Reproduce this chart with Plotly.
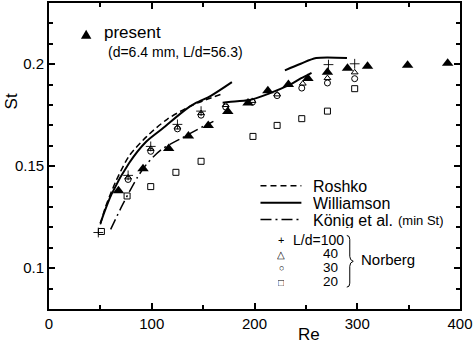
import plotly.graph_objects as go

# ---------------- data ----------------
present_re = [67.6, 91.5, 116.5, 135.7, 155, 174, 193.7, 213, 233, 252, 271, 290.5, 310, 349, 388]
present_st = [0.138, 0.1487, 0.1587, 0.1648, 0.170, 0.1768, 0.181, 0.187, 0.190, 0.193, 0.196, 0.198, 0.199, 0.1995, 0.2005]

roshko_re = [50, 55, 65, 78, 95, 115, 140, 169]
roshko_st = [0.1215, 0.1300, 0.1425, 0.1550, 0.1645, 0.1730, 0.1800, 0.1855]

williamson_re_1 = [50, 61, 78, 94.5, 110.5, 133.5, 143, 157.5, 178]
williamson_st_1 = [0.1220, 0.1364, 0.1516, 0.1620, 0.1685, 0.1780, 0.1810, 0.1845, 0.1912]
williamson_re_2 = [169, 175, 195, 214, 233.5, 245, 255.5]
williamson_st_2 = [0.1811, 0.1815, 0.1824, 0.1856, 0.1897, 0.1930, 0.1958]
williamson_re_3 = [229.6, 245, 260, 290]
williamson_st_3 = [0.1970, 0.2002, 0.2030, 0.2030]

konig_re = [60, 71.5, 86, 95, 109, 130, 150, 160]
konig_st = [0.1190, 0.1310, 0.1445, 0.1510, 0.1580, 0.1640, 0.1695, 0.1720]

norberg100_re = [48, 77, 99, 125, 148, 272, 297.5]
norberg100_st = [0.1175, 0.1455, 0.1597, 0.1705, 0.1770, 0.1998, 0.2002]
norberg40_re = [77, 99, 125, 148, 172, 198, 222, 247, 271, 297.5]
norberg40_st = [0.1445, 0.1585, 0.1690, 0.1760, 0.1800, 0.1820, 0.1852, 0.1905, 0.1932, 0.1960]
norberg30_re = [77, 99, 125, 148, 172, 198, 222, 246, 271, 297.5]
norberg30_st = [0.1435, 0.1573, 0.1683, 0.1750, 0.1790, 0.1814, 0.1846, 0.1883, 0.1908, 0.1929]
norberg20_re = [51, 76, 99, 123.5, 148, 198.5, 222, 246, 271, 297.5]
norberg20_st = [0.1180, 0.1354, 0.1400, 0.1470, 0.1524, 0.1646, 0.1700, 0.1733, 0.1770, 0.1880]

x_major = [0, 100, 200, 300, 400]
x_minor = [50, 150, 250, 350]
y_major = [0.1, 0.15, 0.2]
y_minor = [round(0.09 + 0.01 * i, 2) for i in range(14)]

FONT = "Liberation Sans, Arial, Helvetica, sans-serif"
BLACK = "#000000"

fig = go.Figure()

def line_trace(x, y, dash, width):
    fig.add_trace(go.Scatter(x=x, y=y, mode="lines", line=dict(color=BLACK, width=width, dash=dash, shape="spline", smoothing=0.8),
                             showlegend=False, hoverinfo="skip"))

line_trace(roshko_re, roshko_st, "6px,3.5px", 1.5)
line_trace(williamson_re_1, williamson_st_1, "solid", 2)
line_trace(williamson_re_2, williamson_st_2, "solid", 2)
line_trace(williamson_re_3, williamson_st_3, "solid", 2)
line_trace(konig_re, konig_st, "11px,4px,2px,4px", 1.5)

def marker_trace(x, y, symbol, size, lw=1):
    fig.add_trace(go.Scatter(x=x, y=y, mode="markers",
                             marker=dict(symbol=symbol, size=size, color=BLACK, line=dict(color=BLACK, width=lw)),
                             showlegend=False, hoverinfo="skip"))

marker_trace(norberg20_re, norberg20_st, "square-open", 6)
marker_trace(norberg30_re, norberg30_st, "circle-open", 6)
marker_trace(norberg40_re, norberg40_st, "triangle-up-open", 6)
marker_trace(norberg100_re, norberg100_st, "cross-thin-open", 7, 0.9)
marker_trace(present_re, present_st, "triangle-up", 10, 0)

# ---------------- layout helpers (pixel -> paper) ----------------
L, R, T, B = 49, 13, 1, 38
W, H = 474, 347
PW, PH = W - L - R, H - T - B

def fx(px):
    return (px - L) / PW

def fy(py):
    return 1 - (py - T) / PH

annotations = []
shapes = []

def text(px, py, s, size, anchor="left", angle=0, box_h=None):
    a = dict(x=fx(px), y=fy(py), xref="paper", yref="paper", text=s, showarrow=False,
             xanchor=anchor, yanchor="middle", textangle=angle,
             font=dict(family=FONT, size=size, color=BLACK))
    if box_h is not None:
        a["height"] = box_h
    annotations.append(a)

# top-left legend
shapes.append(dict(type="path", xref="paper", yref="paper",
                   path="M %f,%f L %f,%f L %f,%f Z" % (fx(81), fy(37), fx(91.5), fy(37), fx(86.25), fy(28)),
                   fillcolor=BLACK, line=dict(color=BLACK, width=0)))
text(102, 31, "present", 17)
text(106, 50, "(d=6.4 mm, L/d=56.3)", 14)

# line legend
for py, dash, w in [(185, "6px,4px", 1.5), (202, "solid", 2), (219, "11px,4px,2px,4px", 1.5)]:
    shapes.append(dict(type="line", xref="paper", yref="paper", x0=fx(261), x1=fx(302), y0=fy(py), y1=fy(py),
                       line=dict(color=BLACK, width=w, dash=dash)))
text(312, 185, "Roshko", 16, box_h=16)
text(312, 202, "Williamson", 16, box_h=16)
text(312, 219, "König et al.", 16, box_h=16)
text(397, 220, "(min St)", 13, box_h=15)

# Norberg legend (symbols as text glyphs)
text(282, 239.5, "+", 11, "center", box_h=12)
text(282, 253.5, "△", 10, "center", box_h=12)
text(282, 267.5, "○", 9, "center", box_h=12)
text(282, 281.5, "□", 10, "center", box_h=12)
text(292, 239.5, "L/d=100", 14, box_h=13)
text(331, 253.5, "40", 13.5, "center", box_h=13)
text(331, 267.5, "30", 13.5, "center", box_h=13)
text(331, 281.5, "20", 13.5, "center", box_h=13)
text(360, 259, "Norberg", 15)
# brace
bx0, bx1, bx2 = 347.5, 350.5, 354
brace = ("M %f,%f Q %f,%f %f,%f L %f,%f Q %f,%f %f,%f Q %f,%f %f,%f L %f,%f Q %f,%f %f,%f" % (
    fx(bx0), fy(235), fx(bx1), fy(235), fx(bx1), fy(239),
    fx(bx1), fy(256),
    fx(bx1), fy(260), fx(bx2), fy(261),
    fx(bx1), fy(262), fx(bx1), fy(266),
    fx(bx1), fy(283),
    fx(bx1), fy(287), fx(bx0), fy(287)))
shapes.append(dict(type="path", xref="paper", yref="paper", path=brace, line=dict(color=BLACK, width=1)))

# axis titles
text(11, 100, "St", 17, "center", -90)
annotations.append(dict(x=fx(310), y=fy(335), xref="paper", yref="paper", text="Re", showarrow=False,
                        xanchor="center", yanchor="middle", font=dict(family=FONT, size=17, color=BLACK)))

axis_common = dict(showline=True, linecolor=BLACK, linewidth=1.7, mirror="ticks", ticks="inside",
                   tickcolor=BLACK, tickwidth=1.5, ticklen=6, showgrid=False, zeroline=False,
                   tickfont=dict(family=FONT, size=15, color=BLACK))

fig.update_layout(
    width=W, height=H,
    margin=dict(l=L, r=R, t=T, b=B),
    paper_bgcolor="white", plot_bgcolor="white",
    showlegend=False,
    xaxis=dict(range=[0, 400], tickmode="array", tickvals=x_major,
               minor=dict(tickvals=x_minor, ticks="inside", ticklen=4, tickcolor=BLACK, tickwidth=1.5),
               **axis_common),
    yaxis=dict(range=[0.08, 0.23], tickmode="array", tickvals=y_major, ticktext=["0.1", "0.15", "0.2"],
               minor=dict(tickvals=y_minor, ticks="inside", ticklen=4, tickcolor=BLACK, tickwidth=1.5),
               **axis_common),
    annotations=annotations,
    shapes=shapes,
)

fig.write_html("out.html")
